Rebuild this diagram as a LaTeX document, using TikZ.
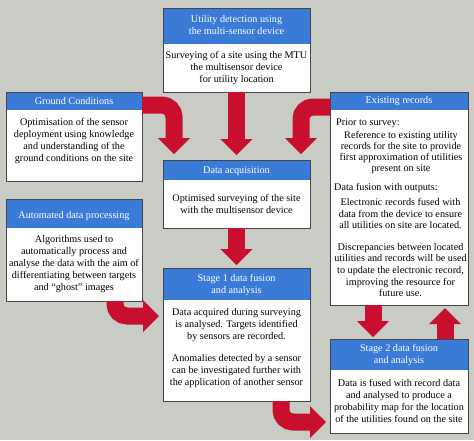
\documentclass[tikz,border=0pt]{standalone}
\usepackage{fontspec}
\setmainfont{Liberation Serif}
\usetikzlibrary{arrows.meta,calc}
\definecolor{bg}{RGB}{201,203,197}
\definecolor{hblue}{RGB}{58,123,216}
\definecolor{ared}{RGB}{200,16,46}
\definecolor{bord}{RGB}{70,70,70}
\begin{document}
\begin{tikzpicture}[x=1pt,y=-1pt,
  font=\fontsize{10.2}{12}\selectfont,
  hdr/.style={rectangle, fill=hblue, anchor=north west, inner sep=0pt, outer sep=0pt},
  bdy/.style={rectangle, fill=white, anchor=north west, inner sep=0pt, outer sep=0pt},
  htext/.style={text=white, align=center, inner sep=0pt},
  btext/.style={text=black, align=center, inner sep=0pt},
  ltext/.style={text=black, align=left, anchor=west, inner sep=0pt},
  frame/.style={draw=bord, line width=0.8pt},
  bigarrow/.style={draw=ared, line width=17pt, rounded corners=12pt,
    -{Triangle[width=32pt,length=16pt,line width=0pt]}}]
\fill[bg] (0,0) rectangle (474,440);
\useasboundingbox (0,0) rectangle (474,440);

% Utility detection
\node[hdr, minimum width=147pt, minimum height=36pt] (udh) at (163,8) {};
\node[bdy, minimum width=147pt, minimum height=48pt] (udb) at (163,44) {};
\draw[frame] (udh.north west) rectangle (udb.south east);
\node[htext] (udht) at ([yshift=1pt]udh.center) {Utility detection using\\the multi-sensor device};
\node[btext] (udbt) at (udb.center) {Surveying of a site using the MTU\\the multisensor device\\for utility location};

% Ground conditions
\node[hdr, minimum width=136pt, minimum height=18pt] (gch) at (6,92) {};
\node[bdy, minimum width=136pt, minimum height=71pt] (gcb) at (6,110) {};
\draw[frame] (gch.north west) rectangle (gcb.south east);
\node[htext] (gcht) at (gch.center) {Ground Conditions};
\node[btext] (gcbt) at ([yshift=4pt]gcb.center) {Optimisation of the sensor\\deployment using knowledge\\and understanding of the\\ground conditions on the site};

% Automated data processing
\node[hdr, minimum width=136pt, minimum height=29pt] (adh) at (6,199) {};
\node[bdy, minimum width=136pt, minimum height=73pt] (adb) at (6,228) {};
\draw[frame] (adh.north west) rectangle (adb.south east);
\node[htext] (adht) at ([yshift=-3pt]adh.center) {Automated data processing};
\node[btext] (adbt) at (adb.center) {Algorithms used to\\automatically process and\\analyse the data with the aim of\\differentiating between targets\\and ``ghost'' images};

% Data acquisition
\node[hdr, minimum width=147pt, minimum height=20pt] (dah) at (163,160) {};
\node[bdy, minimum width=147pt, minimum height=48pt] (dab) at (163,180) {};
\draw[frame] (dah.north west) rectangle (dab.south east);
\node[htext] (daht) at ([yshift=-1pt]dah.center) {Data acquisition};
\node[btext] (dabt) at (dab.center) {Optimised surveying of the site\\with the multisensor device};

% Stage 1
\node[hdr, minimum width=147pt, minimum height=32pt] (s1h) at (163,268) {};
\node[bdy, minimum width=147pt, minimum height=101pt] (s1b) at (163,300) {};
\draw[frame] (s1h.north west) rectangle (s1b.south east);
\node[htext] (s1ht) at ([yshift=-1pt]s1h.center) {Stage 1 data fusion\\and analysis};
\node[btext] (s1bt) at ([yshift=2pt]s1b.center) {Data acquired during surveying\\is analysed. Targets identified\\by sensors are recorded.\\[10pt]Anomalies detected by a sensor\\can be investigated further with\\the application of another sensor};

% Existing records
\node[hdr, minimum width=138pt, minimum height=18pt] (erh) at (330,92) {};
\node[bdy, minimum width=138pt, minimum height=195pt] (erb) at (330,110) {};
\draw[frame] (erh.north west) rectangle (erb.south east);
\node[htext] (erht) at (erh.center) {Existing records};
\node[ltext] (er1) at (336,123) {Prior to survey:};
\node[btext, font=\fontsize{10.2}{11}\selectfont] (er2) at (401,152) {Reference to existing utility\\records for the site to provide\\first approximation of utilities\\present on site};
\node[ltext] (er3) at (334,188) {Data fusion with outputs:};
\node[btext, font=\fontsize{10.2}{11.6}\selectfont] (er4) at (400.5,213.5) {Electronic records fused with\\data from the device to ensure\\all utilities on site are located.};
\node[btext, font=\fontsize{10.2}{11.6}\selectfont] (er5) at (400.5,270) {Discrepancies between located\\utilities and records will be used\\to update the electronic record,\\improving the resource for\\future use.};

% Stage 2
\node[hdr, minimum width=138pt, minimum height=31pt] (s2h) at (330,339) {};
\node[bdy, minimum width=138pt, minimum height=63pt] (s2b) at (330,370) {};
\draw[frame] (s2h.north west) rectangle (s2b.south east);
\node[htext] (s2ht) at ([yshift=-1pt]s2h.center) {Stage 2 data fusion\\and analysis};
\node[btext] (s2bt) at ([yshift=1pt]s2b.center) {Data is fused with record data\\and analysed to produce a\\probability map for the location\\of the utilities found on the site};

% Arrows
\draw[bigarrow] (udb.south) -- ([yshift=5pt]dah.north);
\draw[bigarrow] ([yshift=-4pt]gch.east) -| ([xshift=11pt,yshift=6pt]dah.north west);
\draw[bigarrow] ([yshift=-6pt]erh.west) -| ([xshift=-9pt,yshift=6pt]dah.north east);
\draw[bigarrow] ([xshift=-27pt]adb.south east) |- ([xshift=-4pt,yshift=-16pt]s1b.north west);
\draw[bigarrow] (dab.south) -- ([yshift=3pt]s1h.north);
\draw[bigarrow] ([xshift=-29pt]s1b.south east) |- ([xshift=-4pt,yshift=-52pt]s2b.north west);
\draw[bigarrow] ([xshift=43pt]erb.south west) -- ([xshift=43pt,yshift=2pt]s2h.north west);
\draw[bigarrow] ([xshift=-23pt]s2h.north east) -- ([xshift=-23pt,yshift=-3pt]erb.south east);
\end{tikzpicture}
\end{document}
